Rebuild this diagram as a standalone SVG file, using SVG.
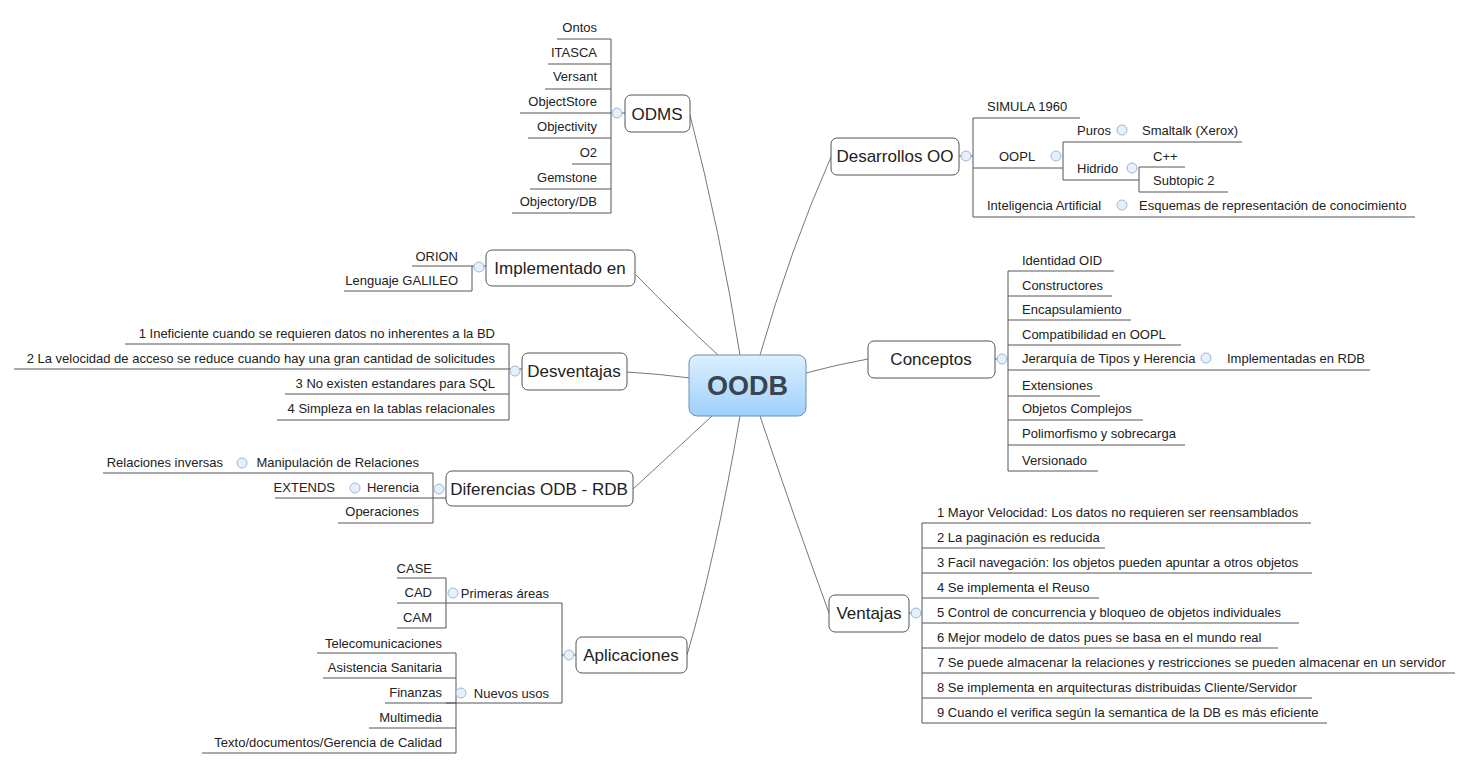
<svg xmlns="http://www.w3.org/2000/svg" width="1471" height="770" viewBox="0 0 1471 770">
<defs>
<linearGradient id="g" x1="0" y1="0" x2="0" y2="1"><stop offset="0" stop-color="#dcefff"/><stop offset="1" stop-color="#9fd0fb"/></linearGradient>
<style>
text{font-family:"Liberation Sans",Arial,sans-serif;fill:#222}
.s{font-size:13px}
.r{text-anchor:end}
.m{font-size:17px;text-anchor:middle}
.box{fill:#fff;stroke:#555;stroke-width:1}
.ln{stroke:#555;stroke-width:1;fill:none}
.c{stroke:#777;stroke-width:1;fill:none}
.o{fill:#e6f0fa;stroke:#9bb8d8;stroke-width:1}
</style>
</defs>
<rect width="1471" height="770" fill="#fff"/>
<g id="connectors">
<path class="c" d="M740 355 Q720 230 690 115"/>
<path class="c" d="M718 355 Q680 320 636 275"/>
<path class="c" d="M690 378 Q660 374 627 372"/>
<path class="c" d="M712 416 Q670 455 633 489"/>
<path class="c" d="M740 416 Q715 560 687 655"/>
<path class="c" d="M760 355 Q790 250 831 157"/>
<path class="c" d="M806 373 Q835 365 868 359"/>
<path class="c" d="M760 416 Q795 520 829 613"/>
</g>
<g id="OODB"><rect x="689" y="355" width="117" height="61" rx="8" fill="url(#g)" stroke="#6a8fb0"/><text x="747.5" y="395" text-anchor="middle" font-size="27" font-weight="bold" style="fill:#3a4450">OODB</text></g>
<g id="ODMS">
<rect class="box" x="625" y="95" width="65" height="37" rx="6"/><text class="m" x="657" y="120">ODMS</text>
<path class="ln" d="M611 39V213M557 39H611M548 64H611M545 89H611M520 113H625M528 138H611M572 164H611M530 189H611M512 213H611"/>
<circle class="o" cx="617" cy="113" r="5"/>
<text class="s r" x="597" y="32">Ontos</text><text class="s r" x="597" y="57">ITASCA</text><text class="s r" x="597" y="81">Versant</text><text class="s r" x="597" y="106">ObjectStore</text><text class="s r" x="597" y="131">Objectivity</text><text class="s r" x="597" y="157">O2</text><text class="s r" x="597" y="182">Gemstone</text><text class="s r" x="597" y="206">Objectory/DB</text>
</g>
<g id="Implementado">
<rect class="box" x="486" y="250" width="149" height="36" rx="6"/><text class="m" x="560" y="274">Implementado en</text>
<path class="ln" d="M472 266V291M412 266H486M344 291H472"/><circle class="o" cx="479" cy="267" r="5"/>
<text class="s r" x="458" y="261">ORION</text><text class="s r" x="458" y="285">Lenguaje GALILEO</text>
</g>
<g id="Desventajas">
<rect class="box" x="522" y="353" width="105" height="37" rx="6"/><text class="m" x="574" y="377">Desventajas</text>
<path class="ln" d="M509 344V420M125 344H509M14 369H522M285 394H509M277 420H509"/><circle class="o" cx="515" cy="371" r="5"/>
<text class="s r" x="495" y="338">1 Ineficiente cuando se requieren datos no inherentes a la BD</text>
<text class="s r" x="495" y="363">2 La velocidad de acceso se reduce cuando hay una gran cantidad de solicitudes</text>
<text class="s r" x="495" y="388">3 No existen estandares para SQL</text>
<text class="s r" x="495" y="413">4 Simpleza en la tablas relacionales</text>
</g>
<g id="Diferencias">
<rect class="box" x="446" y="471" width="187" height="35" rx="6"/><text class="m" x="539" y="495">Diferencias ODB - RDB</text>
<path class="ln" d="M433 473V523M103 473H433M275 498H446M338 523H433"/>
<circle class="o" cx="439" cy="489" r="5"/><circle class="o" cx="242" cy="463" r="5"/><circle class="o" cx="355" cy="488" r="5"/>
<text class="s r" x="419" y="467">Manipulación de Relaciones</text><text class="s r" x="223" y="467">Relaciones inversas</text>
<text class="s r" x="419" y="492">Herencia</text><text class="s r" x="335" y="492">EXTENDS</text>
<text class="s r" x="419" y="516">Operaciones</text>
</g>
<g id="Aplicaciones">
<rect class="box" x="576" y="637" width="111" height="36" rx="6"/><text class="m" x="631" y="661">Aplicaciones</text>
<path class="ln" d="M562 603V703M446 603H562M562 655H576M446 703H562M446 578V628M397 578H446M397 603H446M397 628H446M456 653V753M317 653H456M323 678H456M385 703H456M369 728H456M202 753H456"/>
<circle class="o" cx="569" cy="655" r="5"/><circle class="o" cx="453" cy="593" r="5"/><circle class="o" cx="461" cy="693" r="5"/>
<text class="s r" x="549" y="598">Primeras áreas</text><text class="s r" x="549" y="698">Nuevos usos</text>
<text class="s r" x="432" y="573">CASE</text><text class="s r" x="432" y="597">CAD</text><text class="s r" x="432" y="622">CAM</text>
<text class="s r" x="442" y="648">Telecomunicaciones</text><text class="s r" x="442" y="672">Asistencia Sanitaria</text><text class="s r" x="442" y="697">Finanzas</text><text class="s r" x="442" y="722">Multimedia</text><text class="s r" x="442" y="747">Texto/documentos/Gerencia de Calidad</text>
</g>
<g id="Desarrollos">
<rect class="box" x="831" y="138" width="128" height="37" rx="6"/><text class="m" x="895" y="162">Desarrollos OO</text>
<path class="ln" d="M973 118V217M973 118H1080M959 156H973M973 168H1063M973 217H1415M1063 142V180M1063 142H1242M1063 180H1139M1139 167V192M1139 167H1185M1139 192H1228"/>
<circle class="o" cx="966" cy="156" r="5"/><circle class="o" cx="1056" cy="156" r="5"/><circle class="o" cx="1122" cy="130" r="5"/><circle class="o" cx="1132" cy="168" r="5"/><circle class="o" cx="1122" cy="205" r="5"/>
<text class="s" x="987" y="111">SIMULA 1960</text><text class="s" x="999" y="161">OOPL</text><text class="s" x="987" y="210">Inteligencia Artificial</text><text class="s" x="1139" y="210">Esquemas de representación de conocimiento</text>
<text class="s" x="1077" y="135">Puros</text><text class="s" x="1142" y="135">Smaltalk (Xerox)</text><text class="s" x="1077" y="173">Hidrido</text><text class="s" x="1153" y="161">C++</text><text class="s" x="1153" y="185">Subtopic 2</text>
</g>
<g id="Conceptos">
<rect class="box" x="868" y="341" width="127" height="37" rx="6"/><text class="m" x="931" y="365">Conceptos</text>
<path class="ln" d="M1008 271V471M995 359H1008M1008 271H1114M1008 296H1112M1008 320H1131M1008 345H1181M1008 370H1370M1008 396H1100M1008 420H1143M1008 445H1185M1008 471H1098"/>
<circle class="o" cx="1002" cy="359" r="5"/><circle class="o" cx="1206" cy="358" r="5"/>
<text class="s" x="1022" y="265">Identidad OID</text><text class="s" x="1022" y="290">Constructores</text><text class="s" x="1022" y="314">Encapsulamiento</text><text class="s" x="1022" y="339">Compatibilidad en OOPL</text><text class="s" x="1022" y="363">Jerarquía de Tipos y Herencia</text><text class="s" x="1227" y="363">Implementadas en RDB</text><text class="s" x="1022" y="390">Extensiones</text><text class="s" x="1022" y="413">Objetos Complejos</text><text class="s" x="1022" y="438">Polimorfismo y sobrecarga</text><text class="s" x="1022" y="465">Versionado</text>
</g>
<g id="Ventajas">
<rect class="box" x="829" y="595" width="80" height="37" rx="6"/><text class="m" x="869" y="619">Ventajas</text>
<path class="ln" d="M922 523V723M909 613H922M922 523H1311M922 548H1105M922 573H1312M922 598H1099M922 623H1299M922 648H1278M922 673H1455M922 698H1312M922 723H1327"/>
<circle class="o" cx="916" cy="613" r="5"/>
<text class="s" x="937" y="517">1 Mayor Velocidad: Los datos no requieren ser reensamblados</text>
<text class="s" x="937" y="542">2 La paginación es reducida</text>
<text class="s" x="937" y="567">3 Facil navegación: los objetos pueden apuntar a otros objetos</text>
<text class="s" x="937" y="592">4 Se implementa el Reuso</text>
<text class="s" x="937" y="617">5 Control de concurrencia y bloqueo de objetos individuales</text>
<text class="s" x="937" y="642">6 Mejor modelo de datos pues se basa en el mundo real</text>
<text class="s" x="937" y="667">7 Se puede almacenar la relaciones y restricciones se pueden almacenar en un servidor</text>
<text class="s" x="937" y="692">8 Se implementa en arquitecturas distribuidas Cliente/Servidor</text>
<text class="s" x="937" y="717">9 Cuando el verifica según la semantica de la DB es más eficiente</text>
</g>
</svg>
